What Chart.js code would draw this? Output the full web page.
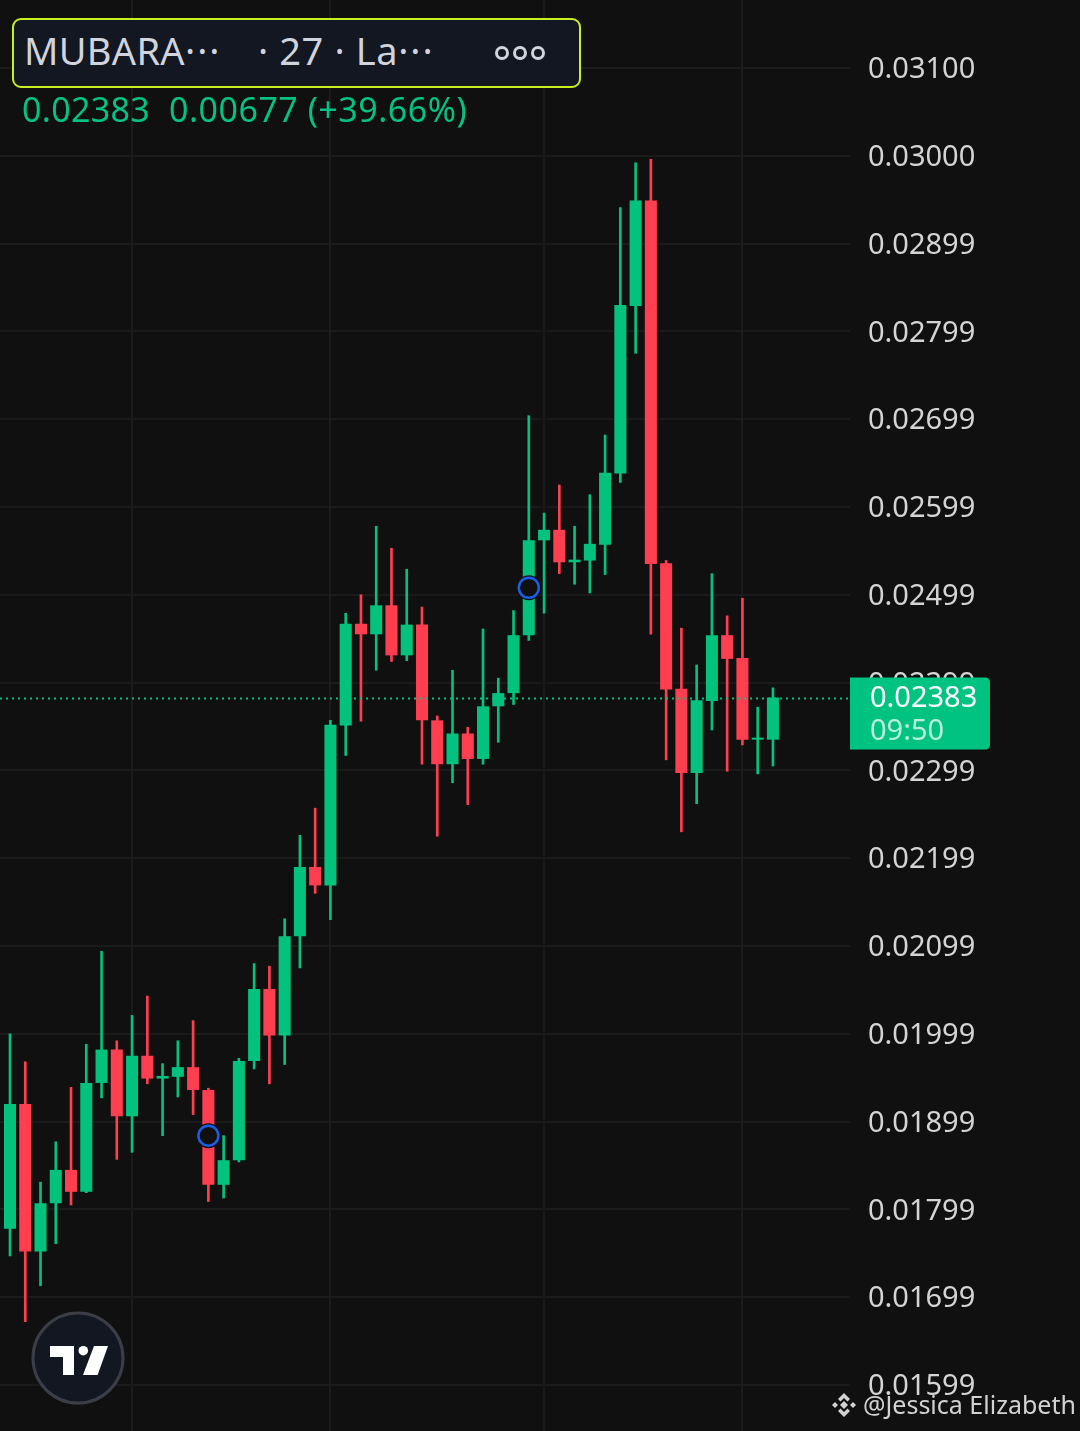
<!DOCTYPE html>
<html>
<head>
<meta charset="utf-8">
<script src="https://cdn.jsdelivr.net/npm/chart.js@4.4.1/dist/chart.umd.min.js"></script>
<style>
html,body{margin:0;padding:0;background:#101010;}
#wrap{position:relative;width:1080px;height:1431px;overflow:hidden;background:#101010;font-family:'Noto Sans',sans-serif;}
#c{position:absolute;left:0;top:0;}
.hdr{position:absolute;left:12px;top:18px;width:569px;height:70px;box-sizing:border-box;border:2px solid #c8f01e;border-radius:9px;background:#131722;}
.t{position:absolute;white-space:pre;}
.title{font-size:38px;line-height:38px;color:#d1d4dc;top:31px;}
.val{font-size:34px;line-height:34px;color:#03c284;top:92px;}
.dot{position:absolute;top:46px;width:8px;height:8px;border:3px solid #d1d4dc;border-radius:50%;}
.wm{font-size:25px;line-height:25px;color:#d2d2d2;top:1392px;left:863px;}
</style>
</head>
<body>
<div id="wrap">
<canvas id="c" width="1080" height="1431"></canvas>
<div class="hdr"></div>
<span class="t title" style="left:24px;letter-spacing:0.3px">MUBARA<span style="letter-spacing:2px">···</span></span>
<span class="t title" style="left:258px;letter-spacing:0.6px">· 27 · La<span style="letter-spacing:2px">···</span></span>
<span class="dot" style="left:495px"></span>
<span class="dot" style="left:513px"></span>
<span class="dot" style="left:531px"></span>
<span class="t val" style="left:22px;letter-spacing:0.3px">0.02383</span>
<span class="t val" style="left:169px;letter-spacing:0.5px">0.00677 (+39.66%)</span>
<svg style="position:absolute;left:30px;top:1310px" width="96" height="96" viewBox="0 0 96 96">
  <circle cx="48" cy="48" r="45" fill="#131722" stroke="#3b3e46" stroke-width="3"/>
  <rect x="20" y="36" width="24" height="11" fill="#fff"/>
  <rect x="33" y="36" width="11" height="29" fill="#fff"/>
  <circle cx="53.3" cy="40.7" r="4.8" fill="#fff"/>
  <polygon points="64,36 78,36 67.6,65 53,65" fill="#fff"/>
</svg>
<svg style="position:absolute;left:830px;top:1391px" width="28" height="28" viewBox="0 0 28 28">
  <g fill="#d2d2d2">
    <polygon points="14,10 18,14 14,18 10,14"/>
    <polygon points="5,11 8,14 5,17 2,14"/>
    <polygon points="23,11 26,14 23,17 20,14"/>
    <polygon points="14,2 20,8 17.5,10.5 14,7 10.5,10.5 8,8"/>
    <polygon points="14,26 20,20 17.5,17.5 14,21 10.5,17.5 8,20"/>
  </g>
</svg>
<span class="t wm">@Jessica Elizabeth</span>
</div>
<script>
// ---- data ----
const opens  = [0.01778,0.01920,0.01752,0.01807,0.01845,0.01820,0.01944,0.01982,0.01906,0.01975,
                0.01949,0.01951,0.01962,0.01936,0.01828,0.01856,0.01969,0.02051,0.01998,0.02111,
                0.02190,0.02169,0.02351,0.02467,0.02455,0.02488,0.02431,0.02466,0.02357,0.02307,
                0.02342,0.02313,0.02373,0.02388,0.02454,0.02562,0.02574,0.02537,0.02539,0.02557,
                0.02638,0.02829,0.02949,0.02536,0.02393,0.02297,0.02379,0.02454,0.02428,0.02335,
                0.02335];
const highs  = [0.02000,0.01968,0.01831,0.01877,0.01939,0.01988,0.02094,0.01992,0.02021,0.02043,
                0.01966,0.01992,0.02015,0.01938,0.01884,0.01972,0.02080,0.02077,0.02131,0.02226,
                0.02257,0.02357,0.02479,0.02500,0.02578,0.02553,0.02529,0.02486,0.02362,0.02414,
                0.02349,0.02461,0.02405,0.02482,0.02704,0.02593,0.02625,0.02578,0.02614,0.02682,
                0.02941,0.02992,0.02996,0.02539,0.02462,0.02420,0.02524,0.02476,0.02496,0.02372,
                0.02394];
const lows   = [0.01747,0.01672,0.01713,0.01761,0.01805,0.01819,0.01927,0.01857,0.01865,0.01943,
                0.01884,0.01928,0.01908,0.01809,0.01813,0.01854,0.01960,0.01943,0.01965,0.02075,
                0.02160,0.02130,0.02317,0.02356,0.02414,0.02424,0.02425,0.02307,0.02225,0.02286,
                0.02261,0.02307,0.02332,0.02375,0.02448,0.02479,0.02524,0.02512,0.02502,0.02523,
                0.02628,0.02775,0.02455,0.02312,0.02230,0.02262,0.02346,0.02299,0.02329,0.02296,
                0.02305];
const closes = [0.01920,0.01752,0.01807,0.01845,0.01820,0.01944,0.01982,0.01906,0.01975,0.01949,
                0.01952,0.01962,0.01936,0.01828,0.01856,0.01969,0.02051,0.01998,0.02111,0.02190,
                0.02169,0.02352,0.02467,0.02455,0.02488,0.02431,0.02466,0.02357,0.02307,0.02342,
                0.02313,0.02373,0.02388,0.02454,0.02562,0.02574,0.02537,0.02540,0.02558,0.02639,
                0.02830,0.02949,0.02535,0.02392,0.02297,0.02380,0.02454,0.02427,0.02335,0.02337,
                0.02383];
const yTickValues = [0.016,0.017,0.018,0.019,0.020,0.021,0.022,0.023,0.024,0.025,0.026,0.027,0.028,0.029,0.030,0.031];
const yTickLabels = ["0.01599","0.01699","0.01799","0.01899","0.01999","0.02099","0.02199","0.02299",
                     "0.02399","0.02499","0.02599","0.02699","0.02799","0.02899","0.03000","0.03100"];
const timeGridIndex = [8, 21, 35, 48];
const markerIndex = [13, 34];
const markerPrice = [0.01884, 0.02508];
const lastPrice = closes[closes.length - 1];
const lastPriceLabel = "0.02383";
const countdownLabel = "09:50";

// ---- styles ----
const UP = '#02c27d';
const DOWN = '#ff3f50';
const GRID = '#1b1b1b';
const BG = '#101010';

const idx = opens.map((_, i) => i);
const dirColor = i => closes[i] >= opens[i] ? UP : DOWN;

const overlay = {
  id: 'overlay',
  afterDatasetsDraw(chart) {
    const {ctx, chartArea: a, scales: {y}} = chart;
    const py = Math.round(y.getPixelForValue(lastPrice)) + 0.5;
    ctx.save();
    ctx.strokeStyle = UP;
    ctx.lineWidth = 2;
    ctx.setLineDash([2, 4]);
    ctx.beginPath();
    ctx.moveTo(a.left, py);
    ctx.lineTo(a.right, py);
    ctx.stroke();
    ctx.restore();
  },
  afterDraw(chart) {
    const {ctx, chartArea: a, scales: {y}} = chart;
    const py = y.getPixelForValue(lastPrice);
    const x0 = a.right, top = py - 20, w = 140, h = 72, r = 5;
    ctx.save();
    ctx.fillStyle = '#00c281';
    ctx.beginPath();
    ctx.moveTo(x0, top);
    ctx.lineTo(x0 + w - r, top);
    ctx.quadraticCurveTo(x0 + w, top, x0 + w, top + r);
    ctx.lineTo(x0 + w, top + h - r);
    ctx.quadraticCurveTo(x0 + w, top + h, x0 + w - r, top + h);
    ctx.lineTo(x0, top + h);
    ctx.closePath();
    ctx.fill();
    ctx.textBaseline = 'middle';
    ctx.textAlign = 'left';
    ctx.font = '29px "Noto Sans"';
    ctx.fillStyle = '#ffffff';
    ctx.fillText(lastPriceLabel, x0 + 20, py + 1);
    ctx.fillStyle = 'rgba(255,255,255,0.72)';
    ctx.fillText(countdownLabel, x0 + 20, py + 34);
    ctx.restore();
  }
};

new Chart(document.getElementById('c'), {
  type: 'bar',
  data: {
    datasets: [
      {
        type: 'scatter',
        data: markerIndex.map((m, k) => ({x: m, y: markerPrice[k]})),
        pointRadius: 10,
        pointBorderWidth: 2.5,
        pointBorderColor: '#1b5de6',
        pointBackgroundColor: BG,
        order: 0
      },
      {
        type: 'scatter',
        data: markerIndex.map((m, k) => ({x: m, y: markerPrice[k]})),
        pointRadius: 12.5,
        pointBorderWidth: 0,
        pointBackgroundColor: BG,
        order: 1
      },
      {
        data: idx.map(i => ({x: i, y: [opens[i], closes[i]]})),
        backgroundColor: c => dirColor(c.dataIndex),
        barPercentage: 0.79,
        categoryPercentage: 1,
        minBarLength: 2,
        grouped: false,
        borderWidth: 0,
        order: 2
      },
      {
        data: idx.map(i => ({x: i, y: [lows[i], highs[i]]})),
        backgroundColor: c => dirColor(c.dataIndex),
        barThickness: 2,
        grouped: false,
        borderWidth: 0,
        order: 3
      }
    ]
  },
  options: {
    responsive: false,
    animation: false,
    devicePixelRatio: 1,
    layout: {padding: 0, autoPadding: false},
    plugins: {legend: {display: false}, tooltip: {enabled: false}},
    scales: {
      x: {
        type: 'linear',
        min: -0.655,
        max: 55.05,
        offset: false,
        afterBuildTicks: s => { s.ticks = timeGridIndex.map(v => ({value: v})); },
        afterFit: s => { s.height = 0; s.paddingLeft = 0; s.paddingRight = 0; s.paddingTop = 0; s.paddingBottom = 0; },
        ticks: {display: false},
        grid: {color: GRID, lineWidth: 2, drawTicks: false, offset: false},
        border: {display: false}
      },
      y: {
        position: 'right',
        min: 0.015476,
        max: 0.031774,
        afterBuildTicks: s => { s.ticks = yTickValues.map(v => ({value: v})); },
        afterFit: s => { s.width = 230; s.paddingTop = 0; s.paddingBottom = 0; s.paddingLeft = 0; s.paddingRight = 0; },
        ticks: {
          color: '#d4d4d4',
          font: {size: 29, family: 'Noto Sans'},
          padding: 18,
          labelOffset: 2,
          callback: (v, i) => yTickLabels[i]
        },
        grid: {color: GRID, lineWidth: 2, drawTicks: false},
        border: {display: false}
      }
    }
  },
  plugins: [overlay]
});
</script>
</body>
</html>
